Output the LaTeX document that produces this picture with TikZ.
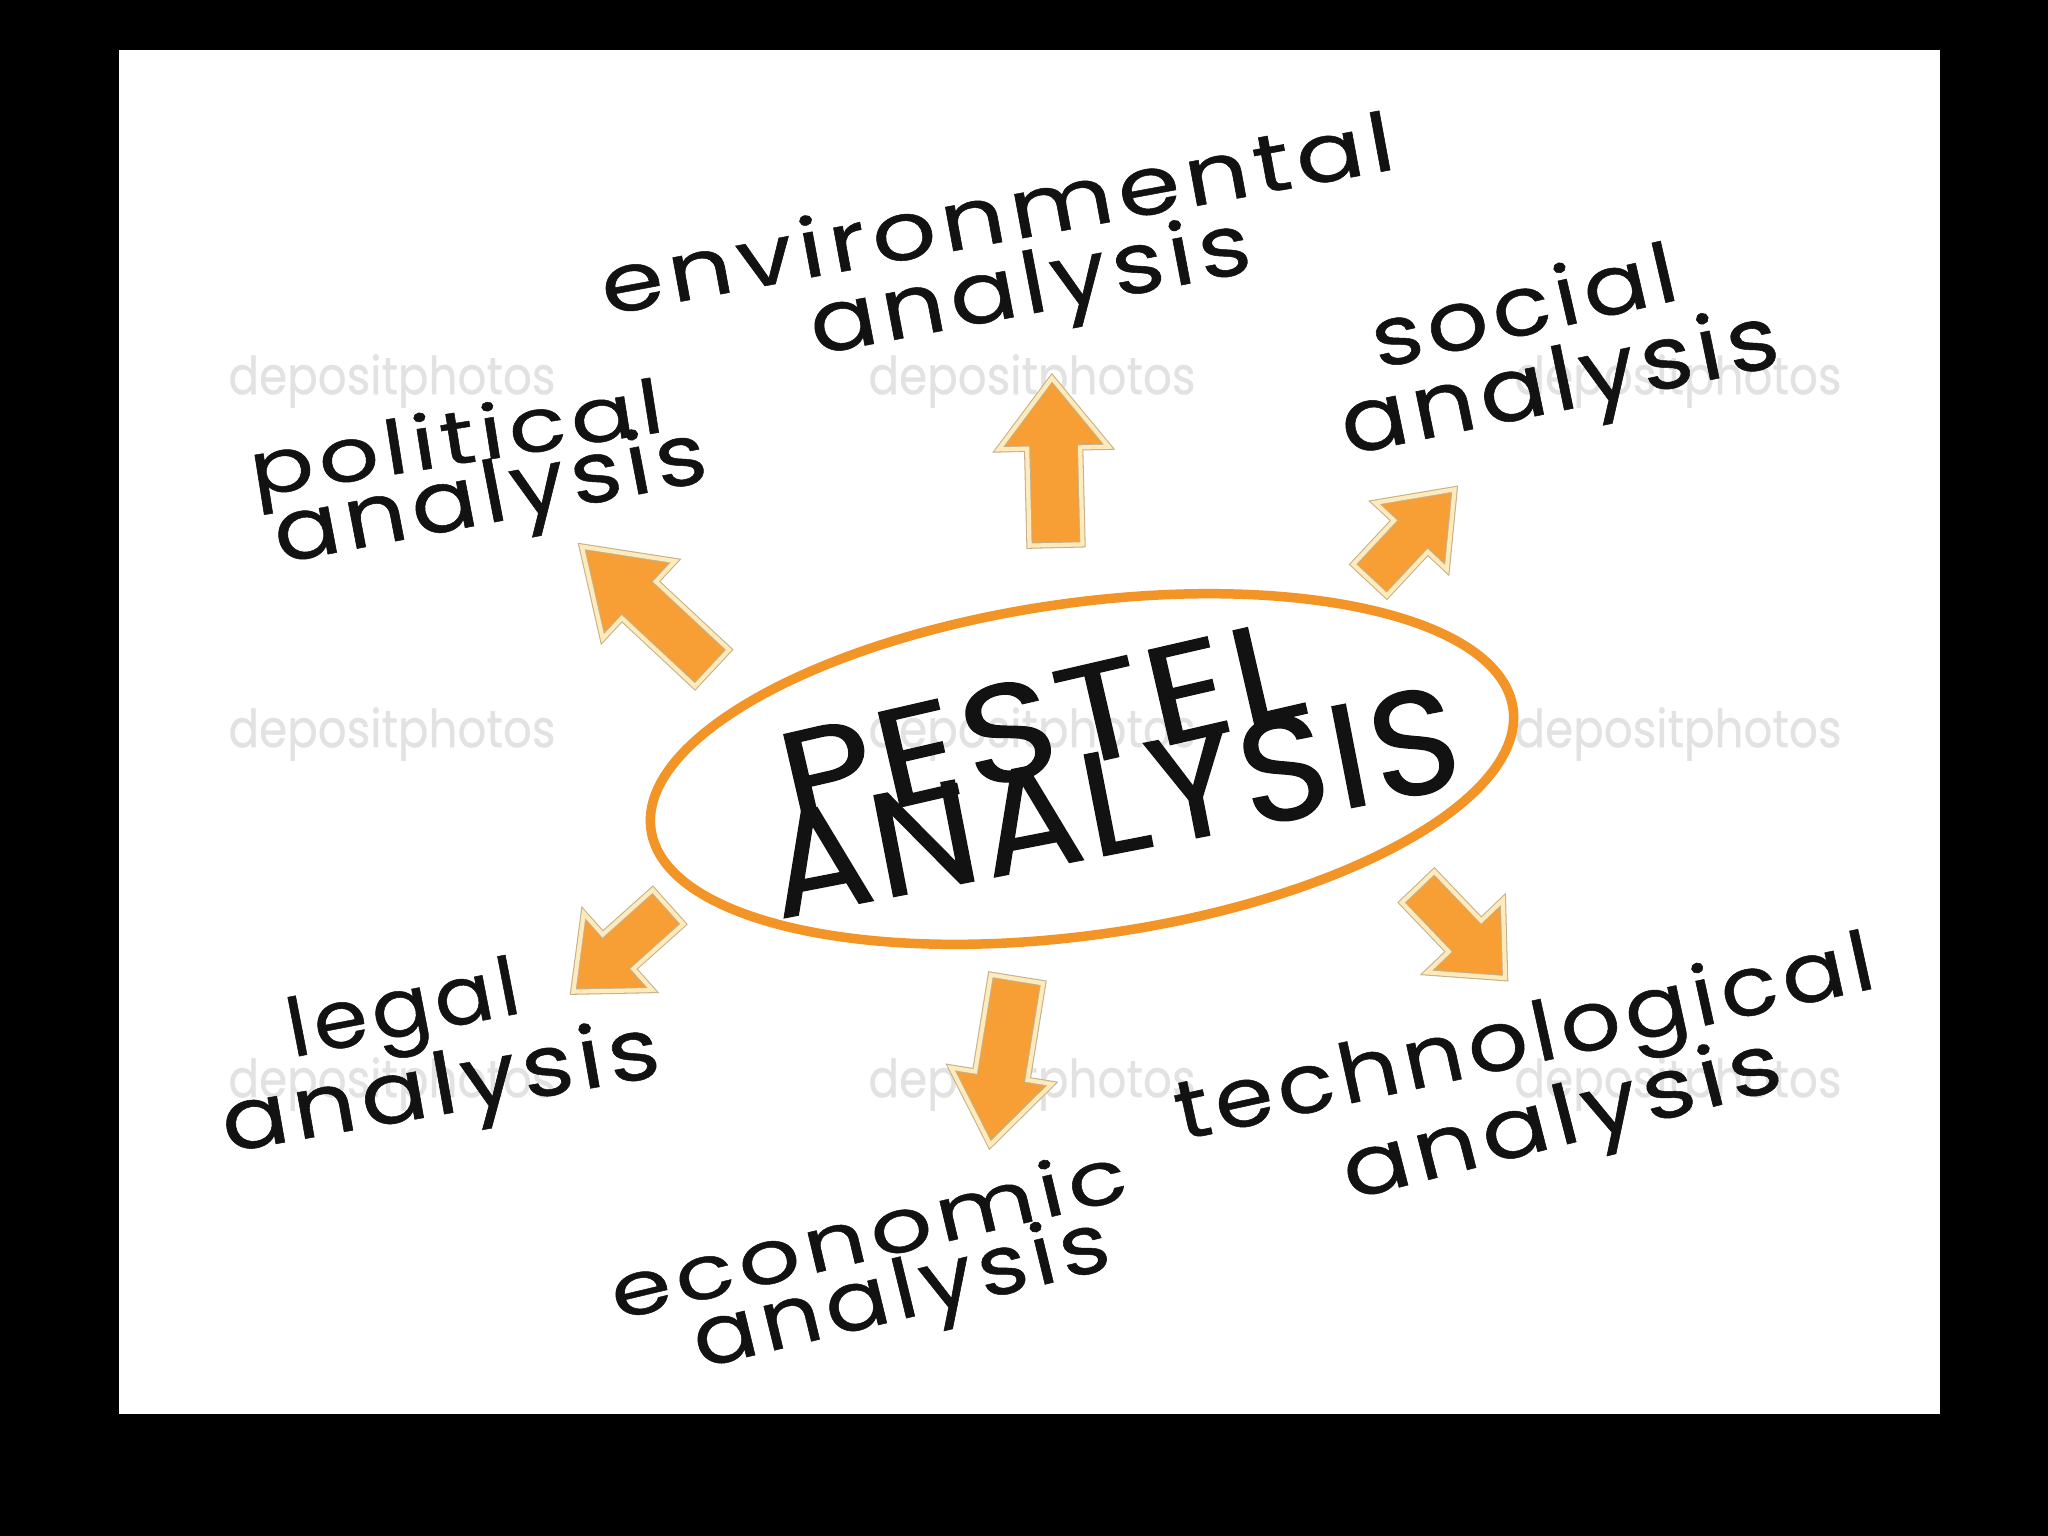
\documentclass[tikz,border=0pt]{standalone}
\usepackage{fontspec}
\usepackage{graphicx}
\setmainfont{Poppins}
\newfontfamily\handfont{Poppins}[LetterSpace=6,FakeBold=0.6]
\newfontfamily\capfont{Poppins}[LetterSpace=3,FakeBold=0.9]
\newfontfamily\wmfont{Poppins}[FakeBold=0.4]
\usetikzlibrary{shapes.geometric}
\newlength\pxu
\setlength\pxu{0.01cm}
\newcommand\hw[3]{\resizebox{#1\pxu}{#2\pxu}{#3}}
\definecolor{arrowfill}{RGB}{247,158,52}
\definecolor{arrowcream}{RGB}{255,234,186}
\definecolor{arrowedge}{RGB}{196,176,140}
\definecolor{ringorange}{RGB}{242,148,38}
\definecolor{ink}{RGB}{18,18,18}
\definecolor{wmgray}{RGB}{226,226,226}
\tikzset{
  lbl/.style={font=\handfont, text=ink, inner sep=0pt, anchor=base},
  caplbl/.style={font=\capfont, text=ink, inner sep=0pt, anchor=base},
  wm/.style={font=\wmfont, text=wmgray, inner sep=0pt},
  fatarrow/.style={fill=arrowfill, draw=arrowedge, line width=0.3pt,
    double=arrowcream, double distance=1.2pt, line join=miter},
  ring/.style={ellipse, draw=ringorange, line width=2.7pt, inner sep=0pt,
    minimum width=8.70cm, minimum height=3.32cm},
}
% tail x, tail y, angle, length, shaft width, head width, head length
\newcommand\fatarr[7]{%
  \begin{scope}[shift={(#1,#2)}, rotate=#3]
    \draw[fatarrow] (0,-#5/2) -- (#4-#7,-#5/2) -- (#4-#7,-#6/2) -- (#4,0)
      -- (#4-#7,#6/2) -- (#4-#7,#5/2) -- (0,#5/2) -- cycle;
  \end{scope}}
\begin{document}
\begin{tikzpicture}[x=0.01cm, y=-0.01cm]
\useasboundingbox (0,0) rectangle (2048,1536);
\fill[black] (0,0) rectangle (2048,1536);
\fill[white] (119,50) rectangle (1940,1414);

% watermarks
\foreach \wx in {392,1032,1678}{
  \foreach \wy in {381,734,1084}{
    \node[wm] (wm-\wx-\wy) at (\wx,\wy) {\hw{327}{40}{depositphotos}};
  }
}

% central ring
\node[ring, rotate=8] (core) at (1082,769) {};
\node[caplbl, rotate=13] (pestel) at (1052,772) {\hw{530}{98}{PESTEL}};
\node[caplbl, rotate=11] (analysisC) at (1123,852) {\hw{700}{104}{ANALYSIS}};

% arrows
\fatarr{1056}{545}{91.4}{167}{53}{110}{70}
\fatarr{712}{668}{137}{178}{50}{106}{78}
\fatarr{1370}{580}{47}{124}{46}{98}{64}
\fatarr{668}{907}{221.8}{127}{46}{103}{60}
\fatarr{1017}{979}{260.8}{168}{53}{102}{70}
\fatarr{1418}{887}{-46.3}{126}{45}{105}{58}

% labels
\node[lbl, rotate=10.5] (env1) at (1002,242) {\hw{805}{62}{environmental}};
\node[lbl, rotate=10.8] (env2) at (1035,313) {\hw{447}{65}{analysis}};
\node[lbl, rotate=13] (soc1) at (1530,334) {\hw{311}{63}{social}};
\node[lbl, rotate=11.7] (soc2) at (1565,410) {\hw{445}{67}{analysis}};
\node[lbl, rotate=9] (pol1) at (460,464) {\hw{417}{57}{political}};
\node[lbl, rotate=10.9] (pol2) at (495,522) {\hw{439}{65}{analysis}};
\node[lbl, rotate=11] (leg1) at (408,1035) {\hw{235}{60}{legal}};
\node[lbl, rotate=10] (leg2) at (445,1114) {\hw{443}{65}{analysis}};
\node[lbl, rotate=13.4] (eco1) at (874,1259) {\hw{528}{57}{economic}};
\node[lbl, rotate=13.7] (eco2) at (907,1318) {\hw{426}{63}{analysis}};
\node[lbl, rotate=12.4] (tec1) at (1530,1064) {\hw{713}{63}{technological}};
\node[lbl, rotate=14.4] (tec2) at (1568,1144) {\hw{450}{63}{analysis}};
\end{tikzpicture}
\end{document}
